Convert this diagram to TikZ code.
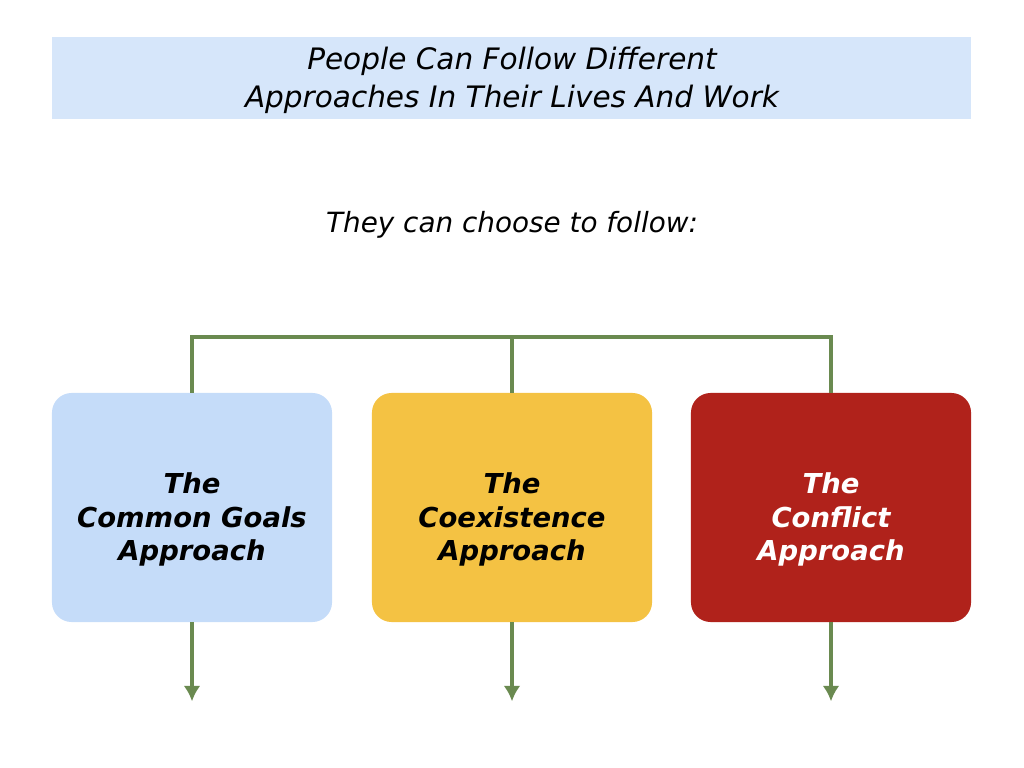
\documentclass[tikz,border=0pt]{standalone}
\usepackage{fontspec}
\setmainfont{DejaVu Sans}
\usetikzlibrary{positioning, arrows.meta}
\definecolor{titlebg}{HTML}{D6E6FA}
\definecolor{goalsbg}{HTML}{C5DCF9}
\definecolor{coexbg}{HTML}{F4C243}
\definecolor{confbg}{HTML}{B0221B}
\definecolor{linkgreen}{HTML}{6A8A50}
\tikzset{
    approach/.style={rounded corners=14pt, minimum width=7cm, minimum height=5.725cm},
    approach text/.style={font=\fontsize{19.5}{23.5}\selectfont\bfseries\itshape, align=center, yshift=-8.5pt},
    link/.style={draw=linkgreen, line width=3.4pt},
}
\begin{document}
\begin{tikzpicture}[x=0.025cm, y=-0.025cm]
        \useasboundingbox (0, 0) rectangle (1024, 768);
        \fill[titlebg] (52, 37) rectangle (971, 119);
        \node (title) at (512, 80) [align=center, font=\fontsize{21}{27}\selectfont\itshape]
            {People Can Follow Different\\Approaches In Their Lives And Work};
        \node (choose) at (512, 225) [font=\fontsize{19.8}{22}\selectfont\itshape] {They can choose to follow:};

        \node[approach, fill=goalsbg, label={[approach text]center:The\\Common Goals\\Approach}] (goals) at (192, 507.5) {};
        \node[approach, fill=coexbg, label={[approach text]center:The\\Coexistence\\Approach}] (coex) at (512, 507.5) {};
        \node[approach, fill=confbg, label={[approach text, text=white]center:The\\Conflict\\Approach}] (conf) at (831, 507.5) {};

        \coordinate (top) at (512, 337);
        \draw[link] (goals.north) |- (top) -| (conf.north);
        \draw[link] (coex.north) -- (top);
        \foreach \appr in {goals, coex, conf} {
            \draw[link, -{Latex[length=11pt, width=12pt]}] (\appr.south) -- ++(0, 79);
        }
    \end{tikzpicture}
\end{document}
